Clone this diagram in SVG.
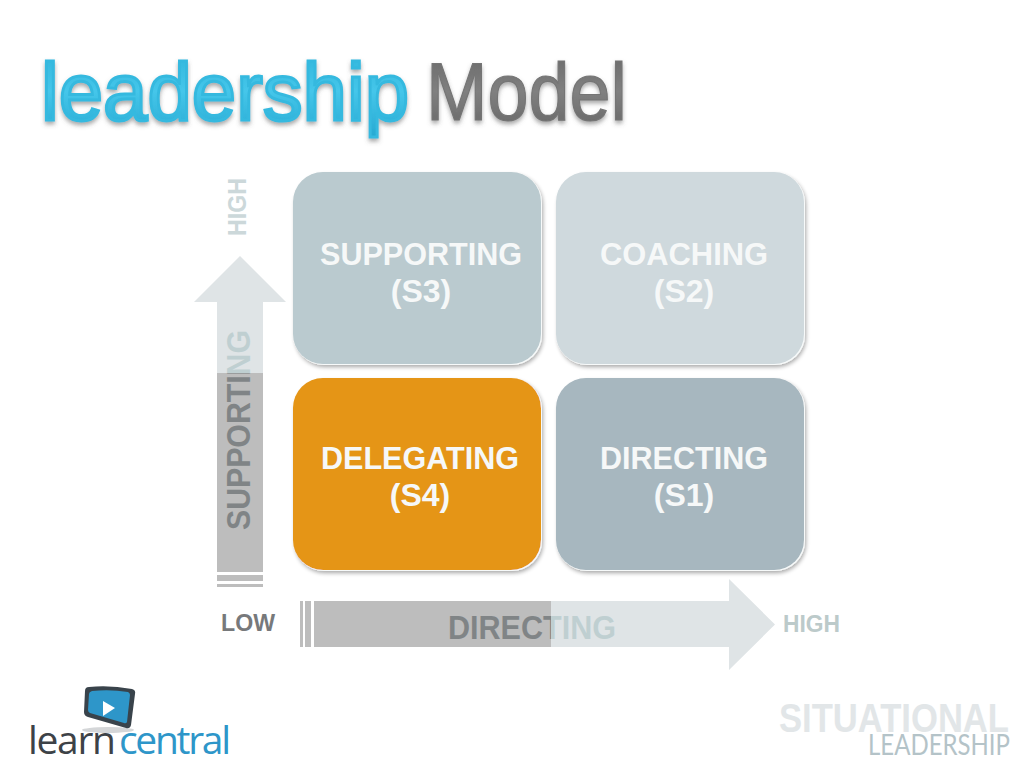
<svg xmlns="http://www.w3.org/2000/svg" width="1024" height="768" viewBox="0 0 1024 768">
<style>
text{font-family:"Liberation Sans",Arial,sans-serif}
.b{font-weight:700}
.box{filter:url(#sh)}
.lbl{font-weight:700;font-size:32px;fill:#f6f8f8;text-anchor:middle}
.arrow{fill:#dfe4e6}
.dark{fill:#bdbdbd}
.logo{font-family:"Open Sans","Liberation Sans",sans-serif;font-size:39px}
</style>
<defs>
<filter id="sh" x="-10%" y="-10%" width="125%" height="125%">
<feGaussianBlur in="SourceAlpha" stdDeviation="2"/><feOffset dx="2" dy="3"/><feComponentTransfer result="s"><feFuncA type="linear" slope=".35"/></feComponentTransfer>
<feFlood flood-color="#f7fafa"/><feComposite in2="SourceAlpha" operator="in"/><feOffset dx="1.200" dy="1.200" result="w"/>
<feMerge><feMergeNode in="s"/><feMergeNode in="w"/><feMergeNode in="SourceGraphic"/></feMerge>
</filter>
<filter id="ts" x="-5%" y="-20%" width="110%" height="150%"><feDropShadow dx="0" dy="3" stdDeviation="2" flood-color="#555" flood-opacity=".5"/></filter>
<linearGradient id="gBlue" x1="0" y1="0" x2="0" y2="1"><stop offset="0" stop-color="#2fb4da"/><stop offset=".5" stop-color="#45c6ea"/><stop offset="1" stop-color="#27a9d2"/></linearGradient>
<linearGradient id="gGray" x1="0" y1="0" x2="0" y2="1"><stop offset="0" stop-color="#666"/><stop offset=".5" stop-color="#808080"/><stop offset="1" stop-color="#636363"/></linearGradient>
<linearGradient id="gV" gradientUnits="userSpaceOnUse" x1="0" y1="0" x2="200" y2="0"><stop offset=".785" stop-color="#808486"/><stop offset=".785" stop-color="#bfcfd1"/></linearGradient>
<linearGradient id="gH" gradientUnits="userSpaceOnUse" x1="448" y1="0" x2="616" y2="0"><stop offset=".613" stop-color="#808486"/><stop offset=".613" stop-color="#bfcfd1"/></linearGradient>
</defs>
<rect width="1024" height="768" fill="#fff"/>
<g id="title" filter="url(#ts)">
<text x="41" y="120" font-size="82" fill="url(#gBlue)" textLength="368" lengthAdjust="spacingAndGlyphs" style="stroke:#35b9df;stroke-width:3">leadership</text>
<text x="426" y="120" font-size="82" fill="url(#gGray)" textLength="201" lengthAdjust="spacingAndGlyphs" style="stroke:#757575;stroke-width:1.200">Model</text>
</g>
<g id="connectors">
<g id="axis-supporting">
<path class="arrow" d="M240 256L286 302H263V373H217V302H194Z"/>
<rect class="dark" x="217" y="373" width="46" height="199"/>
<rect class="dark" x="217" y="575" width="46" height="6"/>
<rect class="dark" x="217" y="584" width="46" height="3"/>
</g>
<g id="axis-directing">
<path class="arrow" d="M551 601H729V579L775 624.500L729 670V647H551Z"/>
<rect class="dark" x="314" y="601" width="237" height="46"/>
<rect class="dark" x="300" y="601" width="3" height="46"/>
<rect class="dark" x="305" y="601" width="6" height="46"/>
</g>
</g>
<g id="axis-labels">
<text class="b" font-size="33" fill="url(#gV)" transform="translate(250 530) rotate(-90)" textLength="200" lengthAdjust="spacingAndGlyphs">SUPPORTING</text>
<text class="b" font-size="25" fill="#ccd8da" transform="translate(246 236) rotate(-90)" textLength="58" lengthAdjust="spacingAndGlyphs">HIGH</text>
<text class="b" x="448" y="639" font-size="33" fill="url(#gH)" textLength="168" lengthAdjust="spacingAndGlyphs">DIRECTING</text>
<text class="b" x="221" y="631" font-size="24" fill="#77797b" textLength="54" lengthAdjust="spacingAndGlyphs">LOW</text>
<text class="b" x="783" y="632" font-size="24" fill="#bccaca" textLength="57" lengthAdjust="spacingAndGlyphs">HIGH</text>
</g>
<g id="s3"><rect class="box" x="293" y="172" width="248" height="192" rx="30" fill="#bacacf"/>
<text class="lbl" x="421" y="265" textLength="202" lengthAdjust="spacingAndGlyphs">SUPPORTING</text><text class="lbl" x="421" y="302">(S3)</text></g>
<g id="s2"><rect class="box" x="556" y="172" width="248" height="192" rx="30" fill="#cfd9dd"/>
<text class="lbl" x="684" y="265" textLength="168" lengthAdjust="spacingAndGlyphs">COACHING</text><text class="lbl" x="684" y="302">(S2)</text></g>
<g id="s4"><rect class="box" x="293" y="378" width="248" height="192" rx="30" fill="#e59516"/>
<text class="lbl" x="420" y="469" textLength="198" lengthAdjust="spacingAndGlyphs">DELEGATING</text><text class="lbl" x="420" y="506">(S4)</text></g>
<g id="s1"><rect class="box" x="556" y="378" width="248" height="192" rx="30" fill="#a7b7bf"/>
<text class="lbl" x="684" y="469" textLength="168" lengthAdjust="spacingAndGlyphs">DIRECTING</text><text class="lbl" x="684" y="506">(S1)</text></g>
<g id="logo">
<ellipse cx="108" cy="730" rx="26" ry="3" fill="#d4d6d8"/>
<path d="M89 687Q110 685 132 689Q136 690 135 694L131 725Q130 729 126 728L88 717Q84 716 84 712L85 691Q85 687 89 687Z" fill="#39434b"/>
<path d="M92 691Q110 689 128 692Q130 693 130 695L127 722Q126 724 124 723L90 713Q88 712 88 710L89 694Q89 692 92 691Z" fill="#2e96c9"/>
<path d="M103 701L115 708L103 716Z" fill="#fff"/>
<text class="logo" x="28" y="754" fill="#3d4247" textLength="88" lengthAdjust="spacing">learn</text>
<text class="logo" x="119" y="754" fill="#2e96c9" textLength="112" lengthAdjust="spacing">central</text>
</g>
<g id="brand">
<text class="b" x="779" y="732" font-size="40" fill="#e2e6e8" textLength="230" lengthAdjust="spacingAndGlyphs">SITUATIONAL</text>
<text x="868" y="755" font-size="28" style="font-family:Lato,'Liberation Sans',sans-serif;font-weight:400" fill="#b4c3c8" textLength="142" lengthAdjust="spacingAndGlyphs">LEADERSHIP</text>
</g>
</svg>
